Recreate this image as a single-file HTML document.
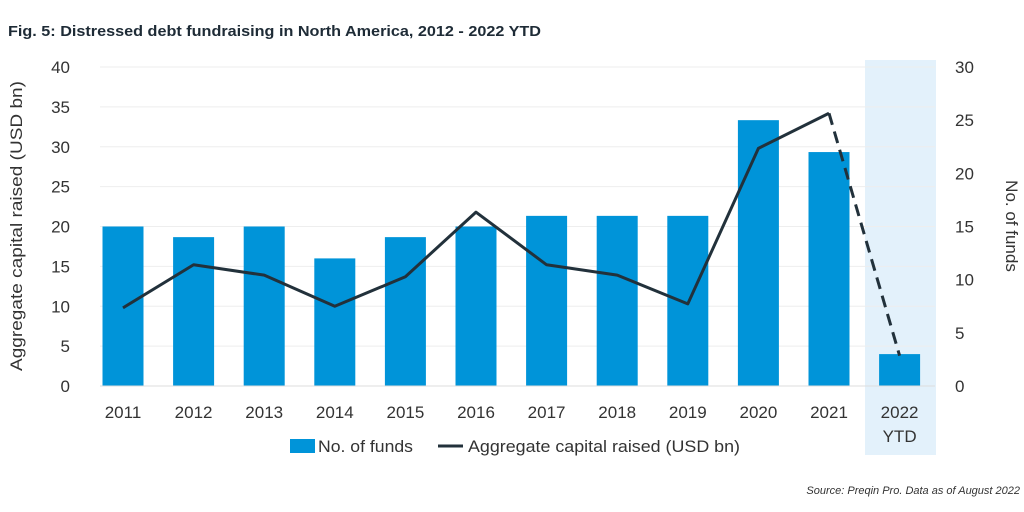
<!DOCTYPE html>
<html><head><meta charset="utf-8"><style>
body{margin:0;background:#fff;}
svg{display:block;font-family:"Liberation Sans",sans-serif;}
</style></head><body>
<svg id="chart" width="1024" height="512" viewBox="0 0 1024 512">
<text x="8" y="36" font-size="15" font-weight="bold" fill="#1e2b36" textLength="533" lengthAdjust="spacingAndGlyphs">Fig. 5: Distressed debt fundraising in North America, 2012 - 2022 YTD</text>
<rect x="865" y="60" width="71" height="395" fill="#e3f1fb"/>
<g id="grid"></g><g id="bars"></g><g id="line"></g><g id="axes"></g>
<text transform="translate(22,226) rotate(-90)" text-anchor="middle" font-size="17" fill="#333" textLength="290" lengthAdjust="spacingAndGlyphs">Aggregate capital raised (USD bn)</text>
<text transform="translate(1006,226) rotate(90)" text-anchor="middle" font-size="17" fill="#333">No. of funds</text>
<rect x="290" y="439" width="25" height="14" fill="#0094d9"/>
<text x="318" y="452" font-size="17" fill="#333" textLength="95" lengthAdjust="spacingAndGlyphs">No. of funds</text>
<line x1="438" y1="446" x2="463" y2="446" stroke="#22313b" stroke-width="3"/>
<text x="468" y="452" font-size="17" fill="#333" textLength="272" lengthAdjust="spacingAndGlyphs">Aggregate capital raised (USD bn)</text>
<text x="1020" y="494" text-anchor="end" font-size="11" font-style="italic" fill="#333">Source: Preqin Pro. Data as of August 2022</text>
</svg>
<script>
const categories=["2011","2012","2013","2014","2015","2016","2017","2018","2019","2020","2021","2022"];
const funds=[15,14,15,12,14,15,16,16,16,25,22,3];
const capital=[9.8,15.2,13.9,10.0,13.7,21.8,15.2,13.9,10.3,29.8,34.2,3.8];
const leftTicks=[0,5,10,15,20,25,30,35,40];
const rightTicks=[0,5,10,15,20,25,30];
const NS="http://www.w3.org/2000/svg";
const y0=386,y1=67,xL=100,xR=935;
const yL=v=>y0-(v/40)*(y0-y1);
const yR=v=>y0-(v/30)*(y0-y1);
const xC=i=>123+i*70.6;
function mk(tag,attrs,parent,txt){const e=document.createElementNS(NS,tag);for(const k in attrs)e.setAttribute(k,attrs[k]);if(txt!==undefined)e.textContent=txt;document.getElementById(parent).appendChild(e);return e;}
leftTicks.forEach(t=>{
 if(t>0){const g=mk('line',{x1:xL,x2:xR,y1:yL(t),y2:yL(t),stroke:'#eeeeee','stroke-width':1},'grid');
 
 }
 const l=mk('text',{x:70,y:yL(t)+6,'text-anchor':'end','font-size':17,fill:'#333'},'axes',t);
 
 
});
rightTicks.forEach(t=>{
 const l=mk('text',{x:955,y:yR(t)+6,'font-size':17,fill:'#333'},'axes',t);
 
 
});
const ax=mk('line',{x1:xL,x2:xR,y1:y0,y2:y0,stroke:'#ddd','stroke-width':1},'axes');


categories.forEach((c,i)=>{
 const b=mk('rect',{x:xC(i)-20.5,y:yR(funds[i]),width:41,height:y0-yR(funds[i]),fill:'#0094d9'},'bars');
 
 
 const t=mk('text',{x:xC(i),y:418,'text-anchor':'middle','font-size':17,fill:'#333'},'axes',c);
 
 
});
const ytd=mk('text',{x:xC(11),y:442,'text-anchor':'middle','font-size':17,fill:'#333'},'axes','YTD');


const n=categories.length;
let d='';for(let i=0;i<n-1;i++)d+=(i?'L':'M')+xC(i)+','+yL(capital[i]);
const p=mk('path',{d:d,fill:'none',stroke:'#22313b','stroke-width':3,'stroke-linejoin':'round'},'line');


const dp=mk('path',{d:'M'+xC(n-2)+','+yL(capital[n-2])+'L'+xC(n-1)+','+yL(capital[n-1]),fill:'none',stroke:'#22313b','stroke-width':3,'stroke-dasharray':'12,7'},'line');


</script>
</body></html>
